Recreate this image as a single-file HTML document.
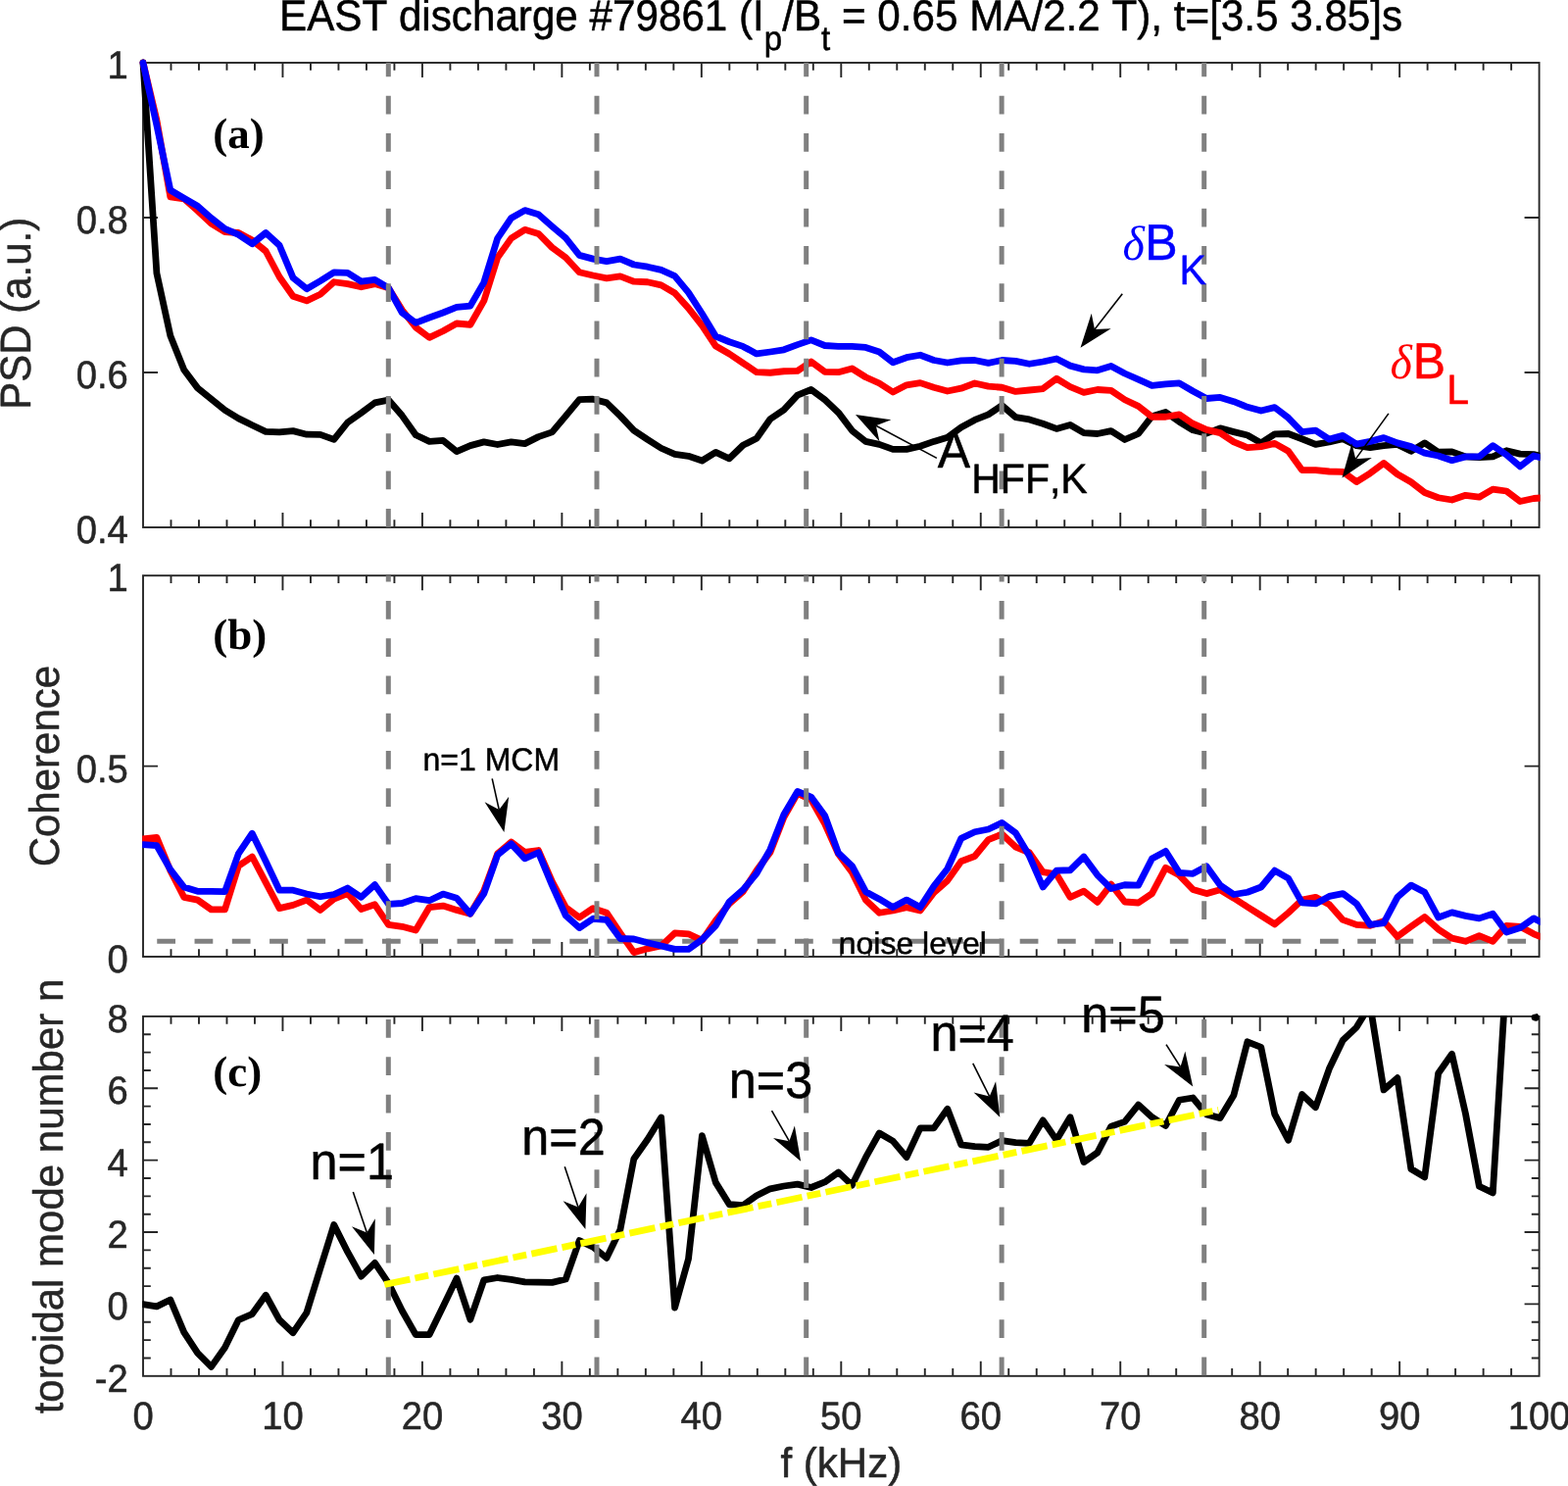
<!DOCTYPE html>
<html lang="en"><head><meta charset="utf-8"><title>EAST discharge #79861</title>
<style>
html,body{margin:0;padding:0;background:#fff;}
body{width:1600px;height:1516px;overflow:hidden;}
svg{display:block;}
text{font-family:"Liberation Sans",Arial,Helvetica,sans-serif;fill:#262626;stroke:#262626;stroke-width:0.5px;stroke-linejoin:round;font-kerning:none;text-rendering:geometricPrecision;}
.pl{font-family:"Liberation Serif","Times New Roman",serif;font-weight:bold;fill:#000;stroke:none;}
.an{fill:#000;}
.sy{font-family:"Liberation Serif","DejaVu Serif",serif;font-style:italic;}
</style></head><body>
<svg width="1600" height="1516" viewBox="0 0 1600 1516">
<rect width="1600" height="1516" fill="#fff"/>
<defs>
<clipPath id="cpa"><rect x="142.0" y="60.0" width="1429.60" height="479.00"/></clipPath>
<clipPath id="cpb"><rect x="145.2" y="583.2" width="1426.40" height="393.80"/></clipPath>
<clipPath id="cpc"><rect x="145.2" y="1035.9" width="1426.40" height="368.90"/></clipPath>
</defs>
<g id="panel-a">
<rect x="146.0" y="64.0" width="1424.60" height="474.00" fill="none" stroke="#262626" stroke-width="1.9"/>
<path d="M174.49 538.0v-7.8M174.49 64.0v7.8M202.98 538.0v-7.8M202.98 64.0v7.8M231.48 538.0v-7.8M231.48 64.0v7.8M259.97 538.0v-7.8M259.97 64.0v7.8M288.46 538.0v-15.0M288.46 64.0v15.0M316.95 538.0v-7.8M316.95 64.0v7.8M345.44 538.0v-7.8M345.44 64.0v7.8M373.94 538.0v-7.8M373.94 64.0v7.8M402.43 538.0v-7.8M402.43 64.0v7.8M430.92 538.0v-15.0M430.92 64.0v15.0M459.41 538.0v-7.8M459.41 64.0v7.8M487.90 538.0v-7.8M487.90 64.0v7.8M516.40 538.0v-7.8M516.40 64.0v7.8M544.89 538.0v-7.8M544.89 64.0v7.8M573.38 538.0v-15.0M573.38 64.0v15.0M601.87 538.0v-7.8M601.87 64.0v7.8M630.36 538.0v-7.8M630.36 64.0v7.8M658.86 538.0v-7.8M658.86 64.0v7.8M687.35 538.0v-7.8M687.35 64.0v7.8M715.84 538.0v-15.0M715.84 64.0v15.0M744.33 538.0v-7.8M744.33 64.0v7.8M772.82 538.0v-7.8M772.82 64.0v7.8M801.32 538.0v-7.8M801.32 64.0v7.8M829.81 538.0v-7.8M829.81 64.0v7.8M858.30 538.0v-15.0M858.30 64.0v15.0M886.79 538.0v-7.8M886.79 64.0v7.8M915.28 538.0v-7.8M915.28 64.0v7.8M943.78 538.0v-7.8M943.78 64.0v7.8M972.27 538.0v-7.8M972.27 64.0v7.8M1000.76 538.0v-15.0M1000.76 64.0v15.0M1029.25 538.0v-7.8M1029.25 64.0v7.8M1057.74 538.0v-7.8M1057.74 64.0v7.8M1086.24 538.0v-7.8M1086.24 64.0v7.8M1114.73 538.0v-7.8M1114.73 64.0v7.8M1143.22 538.0v-15.0M1143.22 64.0v15.0M1171.71 538.0v-7.8M1171.71 64.0v7.8M1200.20 538.0v-7.8M1200.20 64.0v7.8M1228.70 538.0v-7.8M1228.70 64.0v7.8M1257.19 538.0v-7.8M1257.19 64.0v7.8M1285.68 538.0v-15.0M1285.68 64.0v15.0M1314.17 538.0v-7.8M1314.17 64.0v7.8M1342.66 538.0v-7.8M1342.66 64.0v7.8M1371.16 538.0v-7.8M1371.16 64.0v7.8M1399.65 538.0v-7.8M1399.65 64.0v7.8M1428.14 538.0v-15.0M1428.14 64.0v15.0M1456.63 538.0v-7.8M1456.63 64.0v7.8M1485.12 538.0v-7.8M1485.12 64.0v7.8M1513.62 538.0v-7.8M1513.62 64.0v7.8M1542.11 538.0v-7.8M1542.11 64.0v7.8M146.0 380.00h15M1570.6 380.00h-15M146.0 222.00h15M1570.6 222.00h-15" fill="none" stroke="#262626" stroke-width="1.9"/>
<g clip-path="url(#cpa)">
<polyline points="146.00,64.00 159.91,278.75 173.82,342.50 187.74,377.20 201.65,395.90 215.56,407.20 229.47,418.40 243.38,426.90 257.30,433.80 271.21,440.40 285.12,440.90 299.03,439.60 312.95,443.20 326.86,443.40 340.77,448.40 354.68,431.00 368.59,421.30 382.51,410.90 396.42,408.10 410.33,424.10 424.24,443.75 438.15,450.30 452.07,449.40 465.98,460.60 479.89,454.60 493.80,450.90 507.71,453.50 521.63,450.90 535.54,452.60 549.45,445.60 563.36,440.90 577.28,424.40 591.19,407.60 605.10,407.20 619.01,410.90 632.92,424.40 646.84,439.10 660.75,448.40 674.66,457.25 688.57,463.40 702.48,465.30 716.40,470.00 730.31,461.40 744.22,467.80 758.13,454.30 772.04,447.20 785.96,427.50 799.87,418.10 813.78,403.10 827.69,397.50 841.61,407.80 855.52,420.90 869.43,439.30 883.34,450.40 897.25,453.40 911.17,458.40 925.08,458.40 938.99,455.25 952.90,450.40 966.81,446.25 980.73,436.00 994.64,428.40 1008.55,422.80 1022.46,413.70 1036.38,425.60 1050.29,427.90 1064.20,432.20 1078.11,437.40 1092.02,433.50 1105.94,441.60 1119.85,442.50 1133.76,439.70 1147.67,448.50 1161.58,442.50 1175.50,424.70 1189.41,420.40 1203.32,430.30 1217.23,438.75 1231.14,442.10 1245.06,436.90 1258.97,440.60 1272.88,444.00 1286.79,451.90 1300.71,442.80 1314.62,442.50 1328.53,447.75 1342.44,453.40 1356.35,451.00 1370.27,447.75 1384.18,454.70 1398.09,456.60 1412.00,454.70 1425.91,453.40 1439.83,460.30 1453.74,451.90 1467.65,461.25 1481.56,460.90 1495.47,465.90 1509.39,466.50 1523.30,465.90 1537.21,459.75 1551.12,463.10 1565.04,463.70 1578.95,466.50" fill="none" stroke="#000" stroke-width="6.8" stroke-linejoin="round" stroke-linecap="round" />
<polyline points="146.00,64.00 159.91,122.50 173.82,201.00 187.74,202.80 201.65,215.00 215.56,228.10 229.47,236.60 243.38,237.50 257.30,245.00 271.21,256.25 285.12,282.50 299.03,302.20 312.95,306.90 326.86,300.30 340.77,287.75 354.68,289.60 368.59,292.80 382.51,289.60 396.42,293.75 410.33,316.25 424.24,334.00 438.15,344.40 452.07,337.80 465.98,330.00 479.89,331.25 493.80,306.90 507.71,262.80 521.63,243.10 535.54,234.30 549.45,238.40 563.36,252.50 577.28,262.80 591.19,277.80 605.10,281.00 619.01,283.80 632.92,281.90 646.84,287.20 660.75,287.75 674.66,290.90 688.57,299.00 702.48,314.40 716.40,332.20 730.31,353.00 744.22,361.00 758.13,370.30 772.04,379.70 785.96,380.25 799.87,378.75 813.78,378.40 827.69,369.00 841.61,379.30 855.52,379.70 869.43,376.00 883.34,384.75 897.25,391.00 911.17,400.00 925.08,392.80 938.99,390.60 952.90,395.25 966.81,399.00 980.73,396.20 994.64,391.00 1008.55,394.10 1022.46,395.25 1036.38,399.40 1050.29,398.00 1064.20,396.60 1078.11,386.25 1092.02,394.70 1105.94,400.30 1119.85,397.50 1133.76,398.40 1147.67,407.80 1161.58,414.40 1175.50,425.25 1189.41,425.25 1203.32,422.80 1217.23,432.20 1231.14,438.40 1245.06,441.60 1258.97,450.90 1272.88,456.60 1286.79,455.60 1300.71,452.40 1314.62,460.30 1328.53,479.60 1342.44,479.60 1356.35,481.00 1370.27,481.30 1384.18,491.60 1398.09,482.80 1412.00,472.50 1425.91,483.75 1439.83,491.80 1453.74,502.50 1467.65,507.75 1481.56,510.00 1495.47,505.30 1509.39,507.20 1523.30,499.10 1537.21,501.00 1551.12,511.50 1565.04,508.50 1578.95,507.50" fill="none" stroke="#f00" stroke-width="6.8" stroke-linejoin="round" stroke-linecap="round" />
<polyline points="146.00,64.00 159.91,127.80 173.82,194.00 187.74,202.25 201.65,210.30 215.56,222.50 229.47,233.40 243.38,239.40 257.30,248.75 271.21,237.50 285.12,250.25 299.03,283.40 312.95,294.70 326.86,286.60 340.77,277.80 354.68,278.40 368.59,287.20 382.51,285.30 396.42,293.75 410.33,319.00 424.24,329.40 438.15,324.00 452.07,319.00 465.98,313.40 479.89,312.10 493.80,288.10 507.71,243.10 521.63,222.50 535.54,214.60 549.45,218.75 563.36,231.00 577.28,242.75 591.19,260.40 605.10,264.10 619.01,266.60 632.92,264.10 646.84,270.00 660.75,272.20 674.66,275.40 688.57,281.60 702.48,298.40 716.40,320.00 730.31,343.00 744.22,348.75 758.13,353.40 772.04,360.90 785.96,359.00 799.87,356.80 813.78,351.60 827.69,346.90 841.61,352.50 855.52,353.40 869.43,353.40 883.34,354.40 897.25,359.00 911.17,369.75 925.08,364.70 938.99,362.25 952.90,367.50 966.81,370.00 980.73,367.90 994.64,367.50 1008.55,370.30 1022.46,367.50 1036.38,368.40 1050.29,371.25 1064.20,369.00 1078.11,366.00 1092.02,373.10 1105.94,376.90 1119.85,377.80 1133.76,373.50 1147.67,381.00 1161.58,387.20 1175.50,393.40 1189.41,391.90 1203.32,390.90 1217.23,399.00 1231.14,406.50 1245.06,405.40 1258.97,409.70 1272.88,415.30 1286.79,419.00 1300.71,415.60 1314.62,426.30 1328.53,440.60 1342.44,439.10 1356.35,448.10 1370.27,444.40 1384.18,453.20 1398.09,450.40 1412.00,446.60 1425.91,451.90 1439.83,455.60 1453.74,462.20 1467.65,465.00 1481.56,469.70 1495.47,465.90 1509.39,465.90 1523.30,454.70 1537.21,464.00 1551.12,475.90 1565.04,465.00 1578.95,468.50" fill="none" stroke="#00f" stroke-width="6.8" stroke-linejoin="round" stroke-linecap="round" />
</g>
<path d="M396.30 64.00V78.27M396.30 97.80V116.55M396.30 136.08V154.83M396.30 174.36V193.11M396.30 212.64V231.39M396.30 250.92V269.67M396.30 289.20V307.95M396.30 327.48V346.23M396.30 365.76V384.51M396.30 404.04V422.79M396.30 442.32V461.07M396.30 480.60V499.35M396.30 518.88V537.63M608.99 64.00V78.27M608.99 97.80V116.55M608.99 136.08V154.83M608.99 174.36V193.11M608.99 212.64V231.39M608.99 250.92V269.67M608.99 289.20V307.95M608.99 327.48V346.23M608.99 365.76V384.51M608.99 404.04V422.79M608.99 442.32V461.07M608.99 480.60V499.35M608.99 518.88V537.63M822.68 64.00V78.27M822.68 97.80V116.55M822.68 136.08V154.83M822.68 174.36V193.11M822.68 212.64V231.39M822.68 250.92V269.67M822.68 289.20V307.95M822.68 327.48V346.23M822.68 365.76V384.51M822.68 404.04V422.79M822.68 442.32V461.07M822.68 480.60V499.35M822.68 518.88V537.63M1022.13 64.00V78.27M1022.13 97.80V116.55M1022.13 136.08V154.83M1022.13 174.36V193.11M1022.13 212.64V231.39M1022.13 250.92V269.67M1022.13 289.20V307.95M1022.13 327.48V346.23M1022.13 365.76V384.51M1022.13 404.04V422.79M1022.13 442.32V461.07M1022.13 480.60V499.35M1022.13 518.88V537.63M1228.70 64.00V78.27M1228.70 97.80V116.55M1228.70 136.08V154.83M1228.70 174.36V193.11M1228.70 212.64V231.39M1228.70 250.92V269.67M1228.70 289.20V307.95M1228.70 327.48V346.23M1228.70 365.76V384.51M1228.70 404.04V422.79M1228.70 442.32V461.07M1228.70 480.60V499.35M1228.70 518.88V537.63" fill="none" stroke="#808080" stroke-width="5.0"/>
</g>
<g id="panel-b">
<rect x="146.0" y="587.2" width="1424.60" height="388.80" fill="none" stroke="#262626" stroke-width="1.9"/>
<path d="M174.49 976.0v-7.8M174.49 587.2v7.8M202.98 976.0v-7.8M202.98 587.2v7.8M231.48 976.0v-7.8M231.48 587.2v7.8M259.97 976.0v-7.8M259.97 587.2v7.8M288.46 976.0v-15.0M288.46 587.2v15.0M316.95 976.0v-7.8M316.95 587.2v7.8M345.44 976.0v-7.8M345.44 587.2v7.8M373.94 976.0v-7.8M373.94 587.2v7.8M402.43 976.0v-7.8M402.43 587.2v7.8M430.92 976.0v-15.0M430.92 587.2v15.0M459.41 976.0v-7.8M459.41 587.2v7.8M487.90 976.0v-7.8M487.90 587.2v7.8M516.40 976.0v-7.8M516.40 587.2v7.8M544.89 976.0v-7.8M544.89 587.2v7.8M573.38 976.0v-15.0M573.38 587.2v15.0M601.87 976.0v-7.8M601.87 587.2v7.8M630.36 976.0v-7.8M630.36 587.2v7.8M658.86 976.0v-7.8M658.86 587.2v7.8M687.35 976.0v-7.8M687.35 587.2v7.8M715.84 976.0v-15.0M715.84 587.2v15.0M744.33 976.0v-7.8M744.33 587.2v7.8M772.82 976.0v-7.8M772.82 587.2v7.8M801.32 976.0v-7.8M801.32 587.2v7.8M829.81 976.0v-7.8M829.81 587.2v7.8M858.30 976.0v-15.0M858.30 587.2v15.0M886.79 976.0v-7.8M886.79 587.2v7.8M915.28 976.0v-7.8M915.28 587.2v7.8M943.78 976.0v-7.8M943.78 587.2v7.8M972.27 976.0v-7.8M972.27 587.2v7.8M1000.76 976.0v-15.0M1000.76 587.2v15.0M1029.25 976.0v-7.8M1029.25 587.2v7.8M1057.74 976.0v-7.8M1057.74 587.2v7.8M1086.24 976.0v-7.8M1086.24 587.2v7.8M1114.73 976.0v-7.8M1114.73 587.2v7.8M1143.22 976.0v-15.0M1143.22 587.2v15.0M1171.71 976.0v-7.8M1171.71 587.2v7.8M1200.20 976.0v-7.8M1200.20 587.2v7.8M1228.70 976.0v-7.8M1228.70 587.2v7.8M1257.19 976.0v-7.8M1257.19 587.2v7.8M1285.68 976.0v-15.0M1285.68 587.2v15.0M1314.17 976.0v-7.8M1314.17 587.2v7.8M1342.66 976.0v-7.8M1342.66 587.2v7.8M1371.16 976.0v-7.8M1371.16 587.2v7.8M1399.65 976.0v-7.8M1399.65 587.2v7.8M1428.14 976.0v-15.0M1428.14 587.2v15.0M1456.63 976.0v-7.8M1456.63 587.2v7.8M1485.12 976.0v-7.8M1485.12 587.2v7.8M1513.62 976.0v-7.8M1513.62 587.2v7.8M1542.11 976.0v-7.8M1542.11 587.2v7.8M146.0 781.60h15M1570.6 781.60h-15" fill="none" stroke="#262626" stroke-width="1.9"/>
<path d="M160.25 960.3H179.00M198.53 960.3H217.28M236.81 960.3H255.56M275.09 960.3H293.84M313.37 960.3H332.12M351.65 960.3H370.40M389.93 960.3H408.68M428.21 960.3H446.96M466.49 960.3H485.24M504.77 960.3H523.52M543.05 960.3H561.80M581.33 960.3H600.08M619.61 960.3H638.36M657.89 960.3H676.64M696.17 960.3H714.92M734.45 960.3H753.20M772.73 960.3H791.48M811.01 960.3H829.76M849.29 960.3H868.04M887.57 960.3H906.32M925.85 960.3H944.60M964.13 960.3H982.88M1002.41 960.3H1021.16M1040.69 960.3H1059.44M1078.97 960.3H1097.72M1117.25 960.3H1136.00M1155.53 960.3H1174.28M1193.81 960.3H1212.56M1232.09 960.3H1250.84M1270.37 960.3H1289.12M1308.65 960.3H1327.40M1346.93 960.3H1365.68M1385.21 960.3H1403.96M1423.49 960.3H1442.24M1461.77 960.3H1480.52M1500.05 960.3H1518.80M1538.33 960.3H1557.08" fill="none" stroke="#808080" stroke-width="5"/>
<g clip-path="url(#cpb)">
<polyline points="146.00,855.90 159.91,854.40 173.82,888.10 187.74,915.30 201.65,918.10 215.56,927.90 229.47,927.90 243.38,883.40 257.30,874.00 271.21,900.30 285.12,926.60 299.03,923.40 312.95,918.10 326.86,928.40 340.77,917.20 354.68,911.60 368.59,927.50 382.51,922.80 396.42,943.40 410.33,945.30 424.24,949.00 438.15,925.60 452.07,924.10 465.98,928.40 479.89,932.20 493.80,908.75 507.71,870.90 521.63,859.00 535.54,869.40 549.45,867.50 563.36,899.40 577.28,925.60 591.19,936.00 605.10,926.60 619.01,931.25 632.92,951.90 646.84,971.60 660.75,967.80 674.66,965.00 688.57,951.90 702.48,952.80 716.40,959.40 730.31,939.20 744.22,921.90 758.13,909.70 772.04,888.10 785.96,869.40 799.87,833.75 813.78,809.40 827.69,815.90 841.61,840.30 855.52,871.25 869.43,890.00 883.34,918.10 897.25,931.25 911.17,929.00 925.08,925.60 938.99,929.00 952.90,910.60 966.81,898.40 980.73,878.75 994.64,873.50 1008.55,856.70 1022.46,851.00 1036.38,864.10 1050.29,869.75 1064.20,889.60 1078.11,891.90 1092.02,915.30 1105.94,909.10 1119.85,920.40 1133.76,902.20 1147.67,920.00 1161.58,921.00 1175.50,911.60 1189.41,885.30 1203.32,892.80 1217.23,907.40 1231.14,911.60 1245.06,907.80 1258.97,916.25 1272.88,925.25 1286.79,934.00 1300.71,942.90 1314.62,931.25 1328.53,918.10 1342.44,915.30 1356.35,922.80 1370.27,938.40 1384.18,943.40 1398.09,944.40 1412.00,939.70 1425.91,955.60 1439.83,945.30 1453.74,935.40 1467.65,948.10 1481.56,957.10 1495.47,960.30 1509.39,954.70 1523.30,960.30 1537.21,944.40 1551.12,945.30 1565.04,952.80 1578.95,958.50" fill="none" stroke="#f00" stroke-width="6.8" stroke-linejoin="round" stroke-linecap="round" />
<polyline points="146.00,861.70 159.91,862.60 173.82,887.20 187.74,905.00 201.65,909.30 215.56,909.30 229.47,909.70 243.38,870.90 257.30,850.25 271.21,878.75 285.12,908.20 299.03,908.20 312.95,912.00 326.86,914.75 340.77,912.50 354.68,906.00 368.59,915.30 382.51,902.60 396.42,922.40 410.33,921.50 424.24,916.60 438.15,918.70 452.07,912.10 465.98,916.25 479.89,932.20 493.80,911.60 507.71,872.20 521.63,860.90 535.54,875.90 549.45,869.75 563.36,903.10 577.28,934.00 591.19,946.60 605.10,937.25 619.01,938.40 632.92,957.50 646.84,958.00 660.75,961.80 674.66,965.00 688.57,968.40 702.48,968.40 716.40,958.50 730.31,944.40 744.22,920.00 758.13,907.80 772.04,891.00 785.96,866.60 799.87,831.00 813.78,807.50 827.69,813.10 841.61,831.90 855.52,870.30 869.43,883.40 883.34,909.70 897.25,917.20 911.17,925.60 925.08,918.10 938.99,925.60 952.90,904.00 966.81,886.25 980.73,855.30 994.64,848.75 1008.55,846.00 1022.46,839.40 1036.38,849.70 1050.29,873.10 1064.20,905.00 1078.11,888.10 1092.02,887.75 1105.94,874.00 1119.85,892.80 1133.76,906.50 1147.67,902.75 1161.58,903.10 1175.50,876.00 1189.41,868.40 1203.32,890.40 1217.23,891.30 1231.14,883.80 1245.06,903.10 1258.97,912.50 1272.88,910.25 1286.79,905.00 1300.71,888.10 1314.62,896.10 1328.53,920.90 1342.44,921.90 1356.35,914.40 1370.27,911.60 1384.18,921.90 1398.09,943.40 1412.00,941.60 1425.91,915.30 1439.83,903.10 1453.74,910.25 1467.65,936.00 1481.56,930.90 1495.47,934.40 1509.39,936.90 1523.30,932.20 1537.21,951.00 1551.12,946.60 1565.04,936.90 1578.95,944.00" fill="none" stroke="#00f" stroke-width="6.8" stroke-linejoin="round" stroke-linecap="round" />
</g>
<path d="M396.30 587.20V593.43M396.30 612.96V631.71M396.30 651.24V669.99M396.30 689.52V708.27M396.30 727.80V746.55M396.30 766.08V784.83M396.30 804.36V823.11M396.30 842.64V861.39M396.30 880.92V899.67M396.30 919.20V937.95M396.30 957.48V976.00M608.99 587.20V593.43M608.99 612.96V631.71M608.99 651.24V669.99M608.99 689.52V708.27M608.99 727.80V746.55M608.99 766.08V784.83M608.99 804.36V823.11M608.99 842.64V861.39M608.99 880.92V899.67M608.99 919.20V937.95M608.99 957.48V976.00M822.68 587.20V593.43M822.68 612.96V631.71M822.68 651.24V669.99M822.68 689.52V708.27M822.68 727.80V746.55M822.68 766.08V784.83M822.68 804.36V823.11M822.68 842.64V861.39M822.68 880.92V899.67M822.68 919.20V937.95M822.68 957.48V976.00M1022.13 587.20V593.43M1022.13 612.96V631.71M1022.13 651.24V669.99M1022.13 689.52V708.27M1022.13 727.80V746.55M1022.13 766.08V784.83M1022.13 804.36V823.11M1022.13 842.64V861.39M1022.13 880.92V899.67M1022.13 919.20V937.95M1022.13 957.48V976.00M1228.70 587.20V593.43M1228.70 612.96V631.71M1228.70 651.24V669.99M1228.70 689.52V708.27M1228.70 727.80V746.55M1228.70 766.08V784.83M1228.70 804.36V823.11M1228.70 842.64V861.39M1228.70 880.92V899.67M1228.70 919.20V937.95M1228.70 957.48V976.00" fill="none" stroke="#808080" stroke-width="5.0"/>
</g>
<g id="panel-c">
<rect x="146.0" y="1036.9" width="1424.60" height="366.90" fill="none" stroke="#262626" stroke-width="1.9"/>
<path d="M174.49 1403.8v-7.8M174.49 1036.9v7.8M202.98 1403.8v-7.8M202.98 1036.9v7.8M231.48 1403.8v-7.8M231.48 1036.9v7.8M259.97 1403.8v-7.8M259.97 1036.9v7.8M288.46 1403.8v-15.0M288.46 1036.9v15.0M316.95 1403.8v-7.8M316.95 1036.9v7.8M345.44 1403.8v-7.8M345.44 1036.9v7.8M373.94 1403.8v-7.8M373.94 1036.9v7.8M402.43 1403.8v-7.8M402.43 1036.9v7.8M430.92 1403.8v-15.0M430.92 1036.9v15.0M459.41 1403.8v-7.8M459.41 1036.9v7.8M487.90 1403.8v-7.8M487.90 1036.9v7.8M516.40 1403.8v-7.8M516.40 1036.9v7.8M544.89 1403.8v-7.8M544.89 1036.9v7.8M573.38 1403.8v-15.0M573.38 1036.9v15.0M601.87 1403.8v-7.8M601.87 1036.9v7.8M630.36 1403.8v-7.8M630.36 1036.9v7.8M658.86 1403.8v-7.8M658.86 1036.9v7.8M687.35 1403.8v-7.8M687.35 1036.9v7.8M715.84 1403.8v-15.0M715.84 1036.9v15.0M744.33 1403.8v-7.8M744.33 1036.9v7.8M772.82 1403.8v-7.8M772.82 1036.9v7.8M801.32 1403.8v-7.8M801.32 1036.9v7.8M829.81 1403.8v-7.8M829.81 1036.9v7.8M858.30 1403.8v-15.0M858.30 1036.9v15.0M886.79 1403.8v-7.8M886.79 1036.9v7.8M915.28 1403.8v-7.8M915.28 1036.9v7.8M943.78 1403.8v-7.8M943.78 1036.9v7.8M972.27 1403.8v-7.8M972.27 1036.9v7.8M1000.76 1403.8v-15.0M1000.76 1036.9v15.0M1029.25 1403.8v-7.8M1029.25 1036.9v7.8M1057.74 1403.8v-7.8M1057.74 1036.9v7.8M1086.24 1403.8v-7.8M1086.24 1036.9v7.8M1114.73 1403.8v-7.8M1114.73 1036.9v7.8M1143.22 1403.8v-15.0M1143.22 1036.9v15.0M1171.71 1403.8v-7.8M1171.71 1036.9v7.8M1200.20 1403.8v-7.8M1200.20 1036.9v7.8M1228.70 1403.8v-7.8M1228.70 1036.9v7.8M1257.19 1403.8v-7.8M1257.19 1036.9v7.8M1285.68 1403.8v-15.0M1285.68 1036.9v15.0M1314.17 1403.8v-7.8M1314.17 1036.9v7.8M1342.66 1403.8v-7.8M1342.66 1036.9v7.8M1371.16 1403.8v-7.8M1371.16 1036.9v7.8M1399.65 1403.8v-7.8M1399.65 1036.9v7.8M1428.14 1403.8v-15.0M1428.14 1036.9v15.0M1456.63 1403.8v-7.8M1456.63 1036.9v7.8M1485.12 1403.8v-7.8M1485.12 1036.9v7.8M1513.62 1403.8v-7.8M1513.62 1036.9v7.8M1542.11 1403.8v-7.8M1542.11 1036.9v7.8M146.0 1330.42h15M1570.6 1330.42h-15M146.0 1257.04h15M1570.6 1257.04h-15M146.0 1183.66h15M1570.6 1183.66h-15M146.0 1110.28h15M1570.6 1110.28h-15M146.0 1385.45h7.8M1570.6 1385.45h-7.8M146.0 1367.11h7.8M1570.6 1367.11h-7.8M146.0 1348.76h7.8M1570.6 1348.76h-7.8M146.0 1312.08h7.8M1570.6 1312.08h-7.8M146.0 1293.73h7.8M1570.6 1293.73h-7.8M146.0 1275.38h7.8M1570.6 1275.38h-7.8M146.0 1238.69h7.8M1570.6 1238.69h-7.8M146.0 1220.35h7.8M1570.6 1220.35h-7.8M146.0 1202.01h7.8M1570.6 1202.01h-7.8M146.0 1165.32h7.8M1570.6 1165.32h-7.8M146.0 1146.97h7.8M1570.6 1146.97h-7.8M146.0 1128.62h7.8M1570.6 1128.62h-7.8M146.0 1091.93h7.8M1570.6 1091.93h-7.8M146.0 1073.59h7.8M1570.6 1073.59h-7.8M146.0 1055.25h7.8M1570.6 1055.25h-7.8" fill="none" stroke="#262626" stroke-width="1.9"/>
<g clip-path="url(#cpc)">
<polyline points="146.00,1330.60 159.91,1332.90 173.82,1326.00 187.74,1359.10 201.65,1380.30 215.56,1394.40 229.47,1374.70 243.38,1346.60 257.30,1340.60 271.21,1321.25 285.12,1346.60 299.03,1359.70 312.95,1339.10 326.86,1294.10 340.77,1249.60 354.68,1277.20 368.59,1302.10 382.51,1288.40 396.42,1309.10 410.33,1337.20 424.24,1361.60 438.15,1361.60 452.07,1333.10 465.98,1304.10 479.89,1346.25 493.80,1305.90 507.71,1303.50 521.63,1305.40 535.54,1307.80 549.45,1308.20 563.36,1308.40 577.28,1305.00 591.19,1265.60 605.10,1272.20 619.01,1283.40 632.92,1254.40 646.84,1182.20 660.75,1162.50 674.66,1140.00 688.57,1334.10 702.48,1284.40 716.40,1158.60 730.31,1206.40 744.22,1228.75 758.13,1229.70 772.04,1219.75 785.96,1212.80 799.87,1210.00 813.78,1208.10 827.69,1211.50 841.61,1205.90 855.52,1195.90 869.43,1209.10 883.34,1180.90 897.25,1156.00 911.17,1164.10 925.08,1180.60 938.99,1150.90 952.90,1150.90 966.81,1131.25 980.73,1167.80 994.64,1169.70 1008.55,1170.30 1022.46,1163.60 1036.38,1165.60 1050.29,1166.30 1064.20,1142.90 1078.11,1163.10 1092.02,1139.70 1105.94,1185.60 1119.85,1175.90 1133.76,1149.10 1147.67,1144.40 1161.58,1127.10 1175.50,1139.70 1189.41,1148.50 1203.32,1122.25 1217.23,1120.00 1231.14,1136.90 1245.06,1140.60 1258.97,1117.20 1272.88,1062.80 1286.79,1068.40 1300.71,1136.60 1314.62,1163.30 1328.53,1116.60 1342.44,1129.70 1356.35,1090.30 1370.27,1061.25 1384.18,1048.10 1398.09,1025.25 1412.00,1111.90 1425.91,1099.70 1439.83,1192.50 1453.74,1200.90 1467.65,1095.00 1481.56,1075.30 1495.47,1136.25 1509.39,1210.30 1523.30,1216.90 1537.21,991.00 1551.12,1000.00 1565.04,1020.00 1578.95,1015.00" fill="none" stroke="#000" stroke-width="6.8" stroke-linejoin="round" stroke-linecap="round" />
</g>
<path d="M1562.6 1038.1a3.2 3.2 0 0 1 2.9-3.4l3.2-0.8 1.6 2.3v3.9a3.4 3.4 0 0 1-4.2 1.3a3.4 3.4 0 0 1-3.5-3.3z" fill="#000"/>
<path d="M396.30 1040.08V1058.83M396.30 1078.36V1097.11M396.30 1116.64V1135.39M396.30 1154.92V1173.67M396.30 1193.20V1211.95M396.30 1231.48V1250.23M396.30 1269.76V1288.51M396.30 1308.04V1326.79M396.30 1346.32V1365.07M396.30 1384.60V1403.35M608.99 1040.08V1058.83M608.99 1078.36V1097.11M608.99 1116.64V1135.39M608.99 1154.92V1173.67M608.99 1193.20V1211.95M608.99 1231.48V1250.23M608.99 1269.76V1288.51M608.99 1308.04V1326.79M608.99 1346.32V1365.07M608.99 1384.60V1403.35M822.68 1040.08V1058.83M822.68 1078.36V1097.11M822.68 1116.64V1135.39M822.68 1154.92V1173.67M822.68 1193.20V1211.95M822.68 1231.48V1250.23M822.68 1269.76V1288.51M822.68 1308.04V1326.79M822.68 1346.32V1365.07M822.68 1384.60V1403.35M1022.13 1040.08V1058.83M1022.13 1078.36V1097.11M1022.13 1116.64V1135.39M1022.13 1154.92V1173.67M1022.13 1193.20V1211.95M1022.13 1231.48V1250.23M1022.13 1269.76V1288.51M1022.13 1308.04V1326.79M1022.13 1346.32V1365.07M1022.13 1384.60V1403.35M1228.70 1040.08V1058.83M1228.70 1078.36V1097.11M1228.70 1116.64V1135.39M1228.70 1154.92V1173.67M1228.70 1193.20V1211.95M1228.70 1231.48V1250.23M1228.70 1269.76V1288.51M1228.70 1308.04V1326.79M1228.70 1346.32V1365.07M1228.70 1384.60V1403.35" fill="none" stroke="#808080" stroke-width="5.0"/>
<line x1="392.3" y1="1310.5" x2="1243.3" y2="1132.3" stroke="#ff0" stroke-width="6.8" stroke-dasharray="26.6 5.2 14 5.3" stroke-dashoffset="0"/>
</g>
<g id="ticklabels">
<text transform="translate(130.80 80.00) scale(1.0 1.045)" font-size="38.2" text-anchor="end">1</text>
<text transform="translate(130.80 238.00) scale(1.0 1.045)" font-size="38.2" text-anchor="end">0.8</text>
<text transform="translate(130.80 396.00) scale(1.0 1.045)" font-size="38.2" text-anchor="end">0.6</text>
<text transform="translate(130.80 554.00) scale(1.0 1.045)" font-size="38.2" text-anchor="end">0.4</text>
<text transform="translate(130.80 603.20) scale(1.0 1.045)" font-size="38.2" text-anchor="end">1</text>
<text transform="translate(130.80 797.60) scale(1.0 1.045)" font-size="38.2" text-anchor="end">0.5</text>
<text transform="translate(130.80 992.00) scale(1.0 1.045)" font-size="38.2" text-anchor="end">0</text>
<text transform="translate(130.80 1052.90) scale(1.0 1.045)" font-size="38.2" text-anchor="end">8</text>
<text transform="translate(130.80 1126.28) scale(1.0 1.045)" font-size="38.2" text-anchor="end">6</text>
<text transform="translate(130.80 1199.66) scale(1.0 1.045)" font-size="38.2" text-anchor="end">4</text>
<text transform="translate(130.80 1273.04) scale(1.0 1.045)" font-size="38.2" text-anchor="end">2</text>
<text transform="translate(130.80 1346.42) scale(1.0 1.045)" font-size="38.2" text-anchor="end">0</text>
<text transform="translate(130.80 1419.80) scale(1.0 1.045)" font-size="38.2" text-anchor="end">-2</text>
<text transform="translate(146.00 1457.60) scale(1.0 1.045)" font-size="38.2" text-anchor="middle">0</text>
<text transform="translate(288.46 1457.60) scale(1.0 1.045)" font-size="38.2" text-anchor="middle">10</text>
<text transform="translate(430.92 1457.60) scale(1.0 1.045)" font-size="38.2" text-anchor="middle">20</text>
<text transform="translate(573.38 1457.60) scale(1.0 1.045)" font-size="38.2" text-anchor="middle">30</text>
<text transform="translate(715.84 1457.60) scale(1.0 1.045)" font-size="38.2" text-anchor="middle">40</text>
<text transform="translate(858.30 1457.60) scale(1.0 1.045)" font-size="38.2" text-anchor="middle">50</text>
<text transform="translate(1000.76 1457.60) scale(1.0 1.045)" font-size="38.2" text-anchor="middle">60</text>
<text transform="translate(1143.22 1457.60) scale(1.0 1.045)" font-size="38.2" text-anchor="middle">70</text>
<text transform="translate(1285.68 1457.60) scale(1.0 1.045)" font-size="38.2" text-anchor="middle">80</text>
<text transform="translate(1428.14 1457.60) scale(1.0 1.045)" font-size="38.2" text-anchor="middle">90</text>
<text transform="translate(1570.60 1457.60) scale(1.0 1.045)" font-size="38.2" text-anchor="middle">100</text>
</g>
<g id="labels">
<text transform="translate(31.30 319.75) rotate(-90) scale(1.0 1.045)" font-size="42" text-anchor="middle">PSD (a.u.)</text>
<text transform="translate(59.50 781.60) rotate(-90) scale(1.0 1.02)" font-size="42" text-anchor="middle">Coherence</text>
<text transform="translate(63.70 1220.50) rotate(-90) scale(1.0 1.02)" font-size="42" text-anchor="middle">toroidal mode number n</text>
<text transform="translate(858.30 1507.25) scale(1.0 1.02)" font-size="42" text-anchor="middle">f (kHz)</text>
<text transform="translate(285.00 30.60) scale(1.0 1.05)" font-size="42.2" style="fill:#000;stroke:#000">EAST discharge #79861 (I<tspan font-size="33.0" dy="19.6">p</tspan><tspan dy="-19.6">/B</tspan><tspan font-size="33.0" dy="19.6">t</tspan><tspan dy="-19.6"> = 0.65 MA/2.2 T), t=[3.5 3.85]s</tspan></text>
</g>
<text class="pl" transform="translate(217.30 151.40) scale(1.0 0.975)" font-size="45">(a)</text>
<text class="pl" transform="translate(217.30 661.60) scale(1.0 0.975)" font-size="45">(b)</text>
<text class="pl" transform="translate(217.30 1108.40) scale(1.0 0.975)" font-size="45">(c)</text>
<line x1="1145.25" y1="299.75" x2="1117.00" y2="336.09" stroke="#000" stroke-width="1.6"/><polygon points="1102.50,354.75 1113.72,319.78 1117.00,336.09 1133.62,335.24" fill="#000"/>
<line x1="1416.90" y1="421.90" x2="1383.26" y2="468.36" stroke="#000" stroke-width="1.6"/><polygon points="1369.40,487.50 1379.43,452.17 1383.26,468.36 1399.84,466.95" fill="#000"/>
<line x1="955.90" y1="467.40" x2="893.84" y2="434.24" stroke="#000" stroke-width="1.6"/><polygon points="873.00,423.10 909.37,428.25 893.84,434.24 897.49,450.47" fill="#000"/>
<line x1="502.20" y1="794.40" x2="509.26" y2="826.03" stroke="#000" stroke-width="1.6"/><polygon points="514.40,849.10 494.59,818.17 509.26,826.03 519.19,812.68" fill="#000"/>
<line x1="360.30" y1="1215.90" x2="374.35" y2="1257.60" stroke="#000" stroke-width="1.6"/><polygon points="381.90,1280.00 358.94,1251.33 374.35,1257.60 382.82,1243.28" fill="#000"/>
<line x1="576.25" y1="1190.25" x2="589.96" y2="1231.57" stroke="#000" stroke-width="1.6"/><polygon points="597.40,1254.00 574.58,1225.22 589.96,1231.57 598.50,1217.29" fill="#000"/>
<line x1="787.50" y1="1133.10" x2="805.34" y2="1164.20" stroke="#000" stroke-width="1.6"/><polygon points="817.10,1184.70 789.00,1161.04 805.34,1164.20 810.86,1148.50" fill="#000"/>
<line x1="992.80" y1="1084.90" x2="1009.70" y2="1118.58" stroke="#000" stroke-width="1.6"/><polygon points="1020.30,1139.70 993.56,1114.52 1009.70,1118.58 1016.09,1103.21" fill="#000"/>
<line x1="1190.00" y1="1065.60" x2="1204.52" y2="1088.45" stroke="#000" stroke-width="1.6"/><polygon points="1217.20,1108.40 1188.06,1086.04 1204.52,1088.45 1209.33,1072.52" fill="#000"/>
<text transform="translate(316.60 1203.10) scale(1.0 1.045)" font-size="50.3" style="fill:#000;stroke:#000">n=1</text>
<text transform="translate(532.30 1177.90) scale(1.0 1.045)" font-size="50.3" style="fill:#000;stroke:#000">n=2</text>
<text transform="translate(743.80 1120.40) scale(1.0 1.045)" font-size="50.3" style="fill:#000;stroke:#000">n=3</text>
<text transform="translate(949.50 1072.00) scale(1.0 1.045)" font-size="50.3" style="fill:#000;stroke:#000">n=4</text>
<text transform="translate(1103.30 1052.50) scale(1.0 1.045)" font-size="50.3" style="fill:#000;stroke:#000">n=5</text>
<text transform="translate(431.50 786.00) scale(1.0 1.017)" font-size="32" style="fill:#000;stroke:#000">n=1 MCM</text>
<text transform="translate(855.70 972.50) scale(1.0 0.98)" font-size="32" style="fill:#000;stroke:#000">noise level</text>
<text transform="translate(1144.00 264.60) scale(1.0 1.04)" font-size="50" style="fill:#00f;stroke:#00f"><tspan class="sy" font-size="48" x="1.5" style="stroke:none">δ</tspan><tspan x="24.2">B</tspan><tspan font-size="41" x="59.5" dy="24.4">K</tspan></text>
<text transform="translate(1417.00 386.25) scale(1.0 1.04)" font-size="50" style="fill:#f00;stroke:#f00"><tspan class="sy" font-size="48" x="1.5" style="stroke:none">δ</tspan><tspan x="24.7">B</tspan><tspan font-size="41" x="59.3" dy="24.4">L</tspan></text>
<text transform="translate(956.70 476.90) scale(1.0 1.04)" font-size="50" style="fill:#000;stroke:#000">A<tspan font-size="41" dx="1.2" dy="25">HFF,K</tspan></text>
</svg></body></html>
